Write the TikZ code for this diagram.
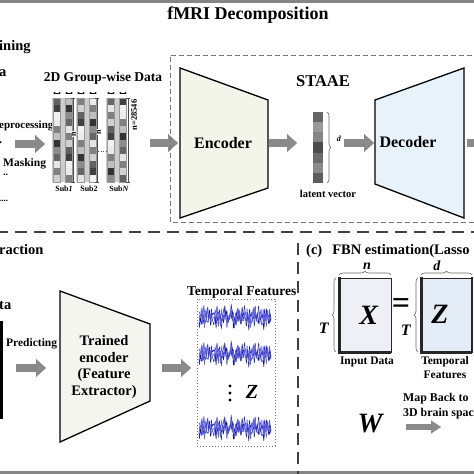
\documentclass[tikz,border=0pt]{standalone}
\usepackage{fontspec}
\setmainfont{Liberation Serif}
\usetikzlibrary{arrows.meta,decorations.pathreplacing}
\definecolor{arrowgray}{HTML}{8A8A8A}
\definecolor{barcol}{HTML}{858585}
\definecolor{encfill}{HTML}{F3F5EA}
\definecolor{decfill}{HTML}{E8F2FB}
\definecolor{trfill}{HTML}{F4F5EE}
\definecolor{xfill}{HTML}{EEF0F5}
\definecolor{zfill}{HTML}{E3ECF7}
\definecolor{sigblue}{HTML}{2328E0}
\definecolor{signavy}{HTML}{10138A}
\newcommand\fz[2]{\fontsize{#1}{#2}\selectfont}
\begin{document}
\begin{tikzpicture}[x=1pt,y=-1pt,
  lbl/.style={inner sep=0pt, font=\bfseries},
  bigarrow/.style={draw=arrowgray, line width=8pt, -{Triangle[length=10pt,width=18pt,line width=0.01pt]}},
  smallarrow/.style={draw=arrowgray, line width=6pt, -{Triangle[length=10pt,width=13pt,line width=0.01pt]}},
  trap/.style={draw=black, line width=1.3pt, line join=miter},
  boxdash/.style={draw=black!55, line width=0.8pt, dash pattern=on 5pt off 3pt},
  sepdash/.style={draw=black!75, line width=1.6pt, dash pattern=on 12pt off 7pt},
  brc/.style={draw=black!60, line width=0.6pt, decorate, decoration={brace, amplitude=4pt}},
  sig/.style={line width=0.45pt, line join=round},
]
\useasboundingbox (0,0) rectangle (474,474);
\clip (0,0) rectangle (474,474);
\fill[white] (0,0) rectangle (474,474);
% frame bars
\fill[barcol] (0,0) rectangle (474,3);
\fill[barcol] (0,471) rectangle (474,474);

% title
\node[lbl] (title) at (248,15) {\fz{18}{20}fMRI Decomposition};

% ---------- section (a) ----------
\node[lbl, anchor=west] (secA) at (-1,47) {\fz{14.5}{16}ining};
\node[lbl, anchor=west] (inA) at (-1,73) {\fz{14.5}{16}a};
\node[lbl, anchor=west] (prep) at (-1,126) {\fz{11}{13}eprocessing};
\node[lbl, anchor=west] (dot1) at (-1,143) {\fz{12}{13}.};
\node[lbl, anchor=west] (mask) at (3,164) {\fz{11.5}{13}Masking};
\node[lbl, anchor=west] (dot2) at (3,175) {\fz{10}{12}..};
\node[lbl, anchor=west] (dot3) at (-1,201) {\fz{9}{10}....};

\coordinate (a1s) at (15,144); \coordinate (a1e) at (45,144);
\draw[bigarrow] (a1s) -- (a1e);

% 2D group-wise data
\node[lbl] (gw) at (103,78) {\fz{13.5}{15}2D Group-wise Data};
\foreach \sx in {52,76,106}{
  \fill[black!20] (\sx,98) rectangle (\sx+20,182);
}
\foreach \cx [count=\k] in {53,65,77,89,107,119}{
  \foreach \j in {0,...,11}{
    \pgfmathtruncatemacro\sh{{45,60,10,50,18,62,75,5,8,50,25,80}[mod(\j+5*\k,12)]}
    \fill[black!\sh] (\cx,98+7*\j) rectangle (\cx+7,105+7*\j);
  }
  \draw[black!40, line width=0.3pt] (\cx,98) rectangle (\cx+7,182);
  \draw[black, line width=0.5pt, {Latex[length=2pt,width=2pt]}-{Latex[length=2pt,width=2pt]}] (\cx,93) -- (\cx+8,93);
}
\foreach \vx in {73,97,128}{
  \draw[black!70, line width=0.5pt] (\vx,98) -- (\vx,182);
  \draw[black!70, line width=0.5pt] (\vx-2,98) -- (\vx+2,98) (\vx-2,182) -- (\vx+2,182);
}
\node[lbl, fill=white, inner sep=0.5pt, rotate=90] (nA) at (74,134) {\fz{8}{9}n};
\node[lbl, fill=white, inner sep=0.5pt, rotate=90] (nB) at (99,132) {\fz{8}{9}n};
\node[lbl, rotate=90] (nval) at (134,115) {\fz{8.5}{9}n=28546};
\draw[black!70, line width=0.6pt, dotted] (98,151) -- (108,151);
\node[lbl] (sub1) at (64,189) {\fz{8}{9}Sub\textit{1}};
\node[lbl] (sub2) at (89,189) {\fz{8}{9}Sub2};
\node[lbl] (subN) at (119,189) {\fz{8}{9}Sub\textit{N}};

\coordinate (a2s) at (150,143); \coordinate (a2e) at (178,143);
\draw[bigarrow] (a2s) -- (a2e);

% STAAE dashed box
\draw[boxdash] (480,55) -- (170,55) -- (170,222) -- (480,222);
\node[lbl] (staae) at (323,81) {\fz{16.5}{18}STAAE};

% encoder
\draw[trap, fill=encfill] (180,68) -- (268,100) -- (268,188) -- (180,218) -- cycle;
\node[lbl] (enc) at (223,143) {\fz{16}{18}Encoder};
\coordinate (a3s) at (269,143); \coordinate (a3e) at (297,143);
\draw[bigarrow] (a3s) -- (a3e);

% latent vector
\foreach \c [count=\i from 0] in {60,40,48,70,58,46,64}{
  \fill[black!\c] (313,112+10.15*\i) rectangle (323,122.15+10.15*\i);
}
\draw[brc] (327,112) -- (327,183);
\node[lbl] (dlat) at (339,139) {\fz{8}{9}\textit{d}};
\node[lbl] (latv) at (328,194) {\fz{10.5}{12}latent vector};
\coordinate (a4s) at (344,143); \coordinate (a4e) at (374,143);
\draw[bigarrow] (a4s) -- (a4e);

% decoder
\draw[trap, fill=decfill] (375,100) -- (464,68) -- (464,218) -- (375,184) -- cycle;
\node[lbl] (dec) at (408,142) {\fz{16}{18}Decoder};
\coordinate (a5s) at (467,143); \coordinate (a5e) at (480,143);
\draw[draw=arrowgray, line width=8pt] (a5s) -- (a5e);

% separators
\draw[sepdash] (-4,232) -- (480,232);
\draw[sepdash] (298,243) -- (298,480);

% ---------- section (b) ----------
\node[lbl, anchor=west] (secB) at (-1,250) {\fz{14.5}{16}raction};
\node[lbl, anchor=west] (inB) at (-1,305) {\fz{14.5}{16}ta};
\fill[black] (0,321) rectangle (3,419);
\node[lbl, anchor=west] (pred) at (6,344) {\fz{11.5}{13}Predicting};
\coordinate (b1s) at (16,368); \coordinate (b1e) at (46,368);
\draw[bigarrow] (b1s) -- (b1e);

\draw[trap, fill=trfill] (60,291) -- (150,324) -- (150,401) -- (60,442) -- cycle;
\node[lbl, align=center, font=\bfseries\fz{14.5}{16.8}] (tenc) at (104,367) {Trained\\encoder\\(Feature\\Extractor)};
\coordinate (b2s) at (162,368); \coordinate (b2e) at (191,368);
\draw[bigarrow] (b2s) -- (b2e);

\node[lbl, anchor=west] (tf) at (187,292) {\fz{13.5}{15}Temporal Features};
\draw[black!55, line width=0.8pt, dash pattern=on 0.9pt off 2.1pt] (197,299) rectangle (275,446);
\foreach \yc in {317,354,428}{
  \draw[sig, sigblue] plot[domain=0:72, samples=220]
    ({199+\x}, {\yc + 5*sin(53*\x) + 4*sin(131*\x+40) + 3.2*sin(197*\x+10) + 2*sin(29*\x+70)});
  \draw[sig, signavy] plot[domain=0:72, samples=220]
    ({199+\x}, {\yc + 4.5*sin(61*\x+100) + 3.8*sin(143*\x+200) + 3*sin(189*\x+80) + 1.8*sin(23*\x+10)});
  \draw[sig, sigblue!75] plot[domain=0:72, samples=220]
    ({199+\x}, {\yc + 4*sin(47*\x+210) + 4*sin(157*\x+300) + 3.4*sin(181*\x+150)});
}
\fill[black] (230,386) circle (1.6) (230,393) circle (1.6) (230,400) circle (1.6);
\node[lbl] (zsmall) at (252,392) {\fz{20}{22}\textit{Z}};

% ---------- section (c) ----------
\node[lbl, anchor=west] (secC) at (306,251) {\fz{14.5}{16}(c)\hspace{10pt}FBN estimation(Lasso};
\draw[fill=xfill, draw=black!85, line width=1pt] (339,278) rectangle (391,352);
\draw[black!85, line width=2.6pt] (339.5,277) -- (339.5,352.5) -- (391,352.5);
\draw[fill=zfill, draw=black!85, line width=1pt] (421,278) rectangle (472,352);
\draw[black!85, line width=2.6pt] (421.5,277) -- (421.5,352.5) -- (472,352.5);
\draw[black!85, line width=2.6pt] (472,277) -- (472,353);
\draw[brc] (339,275) -- (391,275);
\draw[brc] (336,352) -- (336,278);
\draw[brc] (418,352) -- (418,278);
\draw[brc] (421,275) -- (472,275);
\node[lbl] (nlab) at (367,266) {\fz{14}{15}\textit{n}};
\node[lbl] (dlab) at (437,266) {\fz{14}{15}\textit{d}};
\node[lbl] (Tx) at (324,328) {\fz{16}{17}\textit{T}};
\node[lbl] (Tz) at (406,330) {\fz{16}{17}\textit{T}};
\node[lbl] (X) at (369,315) {\fz{28}{30}\textit{X}};
\node[lbl, text height=0.45em, text depth=0pt, font=\bfseries\fz{32}{34}] (eq) at (401,311) {=};
\node[lbl] (Z) at (440,314) {\fz{28}{30}\textit{Z}};
\node[lbl] (inpd) at (367,362) {\fz{11.5}{13}Input Data};
\node[lbl, align=center, font=\bfseries\fz{11.5}{14}] (tfc) at (445,368) {Temporal\\Features};
\node[lbl, anchor=west, align=left, font=\bfseries\fz{11.9}{15}] (mapb) at (403,406) {Map Back to\\3D brain spac};
\node[lbl] (W) at (371,424) {\fz{28}{30}\textit{W}};
\coordinate (c1s) at (406,427); \coordinate (c1e) at (441,427);
\draw[smallarrow] (c1s) -- (c1e);
\end{tikzpicture}
\end{document}
